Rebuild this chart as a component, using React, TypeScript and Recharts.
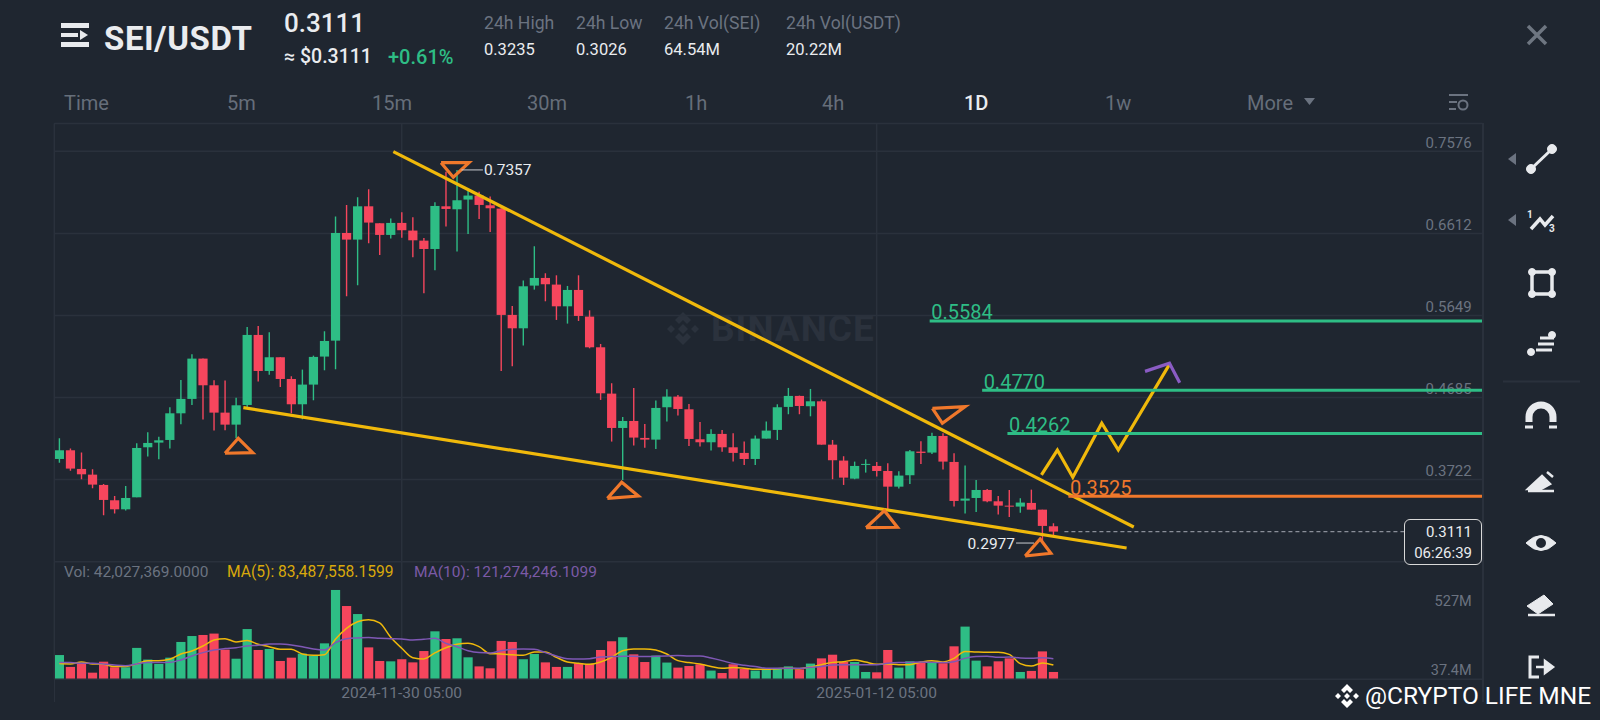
import { Bar, CartesianGrid, ComposedChart, Line, ReferenceLine, XAxis, YAxis } from 'recharts';

// candles, oldest first
const opens = [
  0.3964, 0.4066, 0.3847, 0.3780, 0.3659, 0.3479, 0.3373, 0.3514, 0.4101, 0.4156,
  0.4187, 0.4500, 0.4669, 0.5142, 0.4829, 0.4508, 0.4367, 0.4598, 0.5420, 0.4997,
  0.5158, 0.4903, 0.4606, 0.4837, 0.5166, 0.5353, 0.6617, 0.6539, 0.6930, 0.6731,
  0.6594, 0.6735, 0.6645, 0.6527, 0.6429, 0.6930, 0.6895, 0.7009, 0.7056, 0.6942,
  0.6903, 0.5655, 0.5498, 0.5999, 0.6089, 0.6011, 0.5756, 0.5948, 0.5635, 0.5275,
  0.4731, 0.4328, 0.4410, 0.4211, 0.4191, 0.4571, 0.4696, 0.4547, 0.4195, 0.4160,
  0.4258, 0.4101, 0.4035, 0.3964, 0.4203, 0.4305, 0.4575, 0.4704, 0.4583, 0.4641,
  0.4132, 0.3945, 0.3733, 0.3898, 0.3882, 0.3823, 0.3639, 0.3773, 0.4050, 0.4039,
  0.4234, 0.3929, 0.3475, 0.3506, 0.3600, 0.3467, 0.3416, 0.3405, 0.3448, 0.3369,
  0.3174,
];
const highs = [
  0.4207, 0.4086, 0.4039, 0.3843, 0.3671, 0.3530, 0.3647, 0.4148, 0.4277, 0.4226,
  0.4571, 0.4892, 0.5193, 0.5142, 0.4888, 0.4884, 0.4684, 0.5514, 0.5526, 0.5451,
  0.5158, 0.4935, 0.5013, 0.5177, 0.5463, 0.6809, 0.6946, 0.7036, 0.7130, 0.6731,
  0.6786, 0.6860, 0.6801, 0.6559, 0.6977, 0.7337, 0.7357, 0.7122, 0.7102, 0.7044,
  0.6907, 0.5760, 0.6058, 0.6461, 0.6144, 0.6120, 0.5995, 0.6120, 0.5709, 0.5314,
  0.4853, 0.4457, 0.4798, 0.4375, 0.4649, 0.4782, 0.4716, 0.4610, 0.4399, 0.4313,
  0.4305, 0.4266, 0.4168, 0.4238, 0.4403, 0.4606, 0.4798, 0.4708, 0.4786, 0.4661,
  0.4187, 0.3996, 0.3933, 0.3960, 0.3929, 0.3913, 0.3819, 0.4070, 0.4172, 0.4273,
  0.4266, 0.4031, 0.3886, 0.3718, 0.3612, 0.3530, 0.3600, 0.3503, 0.3604, 0.3369,
  0.3209,
];
const lows = [
  0.3921, 0.3827, 0.3726, 0.3620, 0.3303, 0.3323, 0.3358, 0.3514, 0.3992, 0.3960,
  0.4086, 0.4371, 0.4598, 0.4426, 0.4297, 0.4301, 0.4207, 0.4559, 0.4872, 0.4954,
  0.4809, 0.4500, 0.4430, 0.4653, 0.5005, 0.5017, 0.5874, 0.6003, 0.6496, 0.6359,
  0.6551, 0.6562, 0.6332, 0.5909, 0.6179, 0.6692, 0.6398, 0.6606, 0.6782, 0.6629,
  0.4997, 0.5052, 0.5295, 0.5952, 0.5815, 0.5596, 0.5553, 0.5584, 0.5263, 0.4657,
  0.4168, 0.3718, 0.4121, 0.4097, 0.4082, 0.4403, 0.4473, 0.4117, 0.4109, 0.4062,
  0.4050, 0.3933, 0.3894, 0.3894, 0.4203, 0.4187, 0.4489, 0.4489, 0.4465, 0.4132,
  0.3726, 0.3659, 0.3726, 0.3804, 0.3757, 0.3366, 0.3616, 0.3671, 0.3906, 0.4023,
  0.3839, 0.3405, 0.3323, 0.3342, 0.3455, 0.3311, 0.3283, 0.3334, 0.3369, 0.2977,
  0.3072,
];
const closes = [
  0.4066, 0.3851, 0.3784, 0.3663, 0.3483, 0.3373, 0.3506, 0.4093, 0.4152, 0.4183,
  0.4500, 0.4669, 0.5142, 0.4829, 0.4508, 0.4367, 0.4594, 0.5420, 0.4997, 0.5158,
  0.4903, 0.4606, 0.4837, 0.5162, 0.5349, 0.6617, 0.6539, 0.6930, 0.6739, 0.6594,
  0.6735, 0.6649, 0.6531, 0.6429, 0.6934, 0.6899, 0.7001, 0.7056, 0.6946, 0.6907,
  0.5655, 0.5498, 0.5991, 0.6089, 0.6015, 0.5756, 0.5948, 0.5643, 0.5275, 0.4735,
  0.4328, 0.4410, 0.4215, 0.4191, 0.4563, 0.4696, 0.4551, 0.4199, 0.4160, 0.4258,
  0.4101, 0.4035, 0.3964, 0.4203, 0.4297, 0.4571, 0.4704, 0.4586, 0.4641, 0.4132,
  0.3949, 0.3745, 0.3882, 0.3906, 0.3823, 0.3639, 0.3769, 0.4054, 0.4035, 0.4234,
  0.3933, 0.3471, 0.3499, 0.3600, 0.3467, 0.3416, 0.3409, 0.3452, 0.3369, 0.3178,
  0.3111,
];

// volume in millions
const volumes = [
  139, 71, 92, 38, 101, 69, 69, 180, 113, 88,
  124, 214, 248, 254, 262, 170, 118, 288, 168, 174,
  105, 124, 147, 134, 206, 512, 420, 374, 183, 105,
  103, 115, 97, 162, 275, 231, 235, 126, 74, 63,
  220, 214, 115, 145, 97, 71, 71, 92, 88, 168,
  218, 241, 143, 99, 136, 96, 67, 76, 86, 50,
  36, 86, 59, 50, 61, 65, 74, 57, 90, 120,
  141, 101, 99, 42, 40, 168, 67, 103, 96, 96,
  92, 189, 302, 107, 74, 103, 120, 42, 48, 160,
  42,
];
const ma5 = [
  90, 88, 99, 88, 86, 73, 73, 88, 107, 107,
  115, 145, 162, 191, 225, 233, 214, 222, 201, 187,
  172, 172, 145, 138, 141, 229, 292, 330, 342, 323,
  241, 178, 124, 117, 151, 181, 201, 206, 187, 147,
  145, 141, 138, 157, 157, 126, 99, 92, 86, 99,
  126, 164, 174, 174, 168, 145, 107, 96, 88, 73,
  63, 67, 63, 57, 57, 61, 63, 61, 71, 84,
  97, 101, 111, 99, 86, 88, 84, 84, 99, 107,
  99, 120, 160, 157, 155, 155, 143, 90, 76, 94,
  82,
];
const ma10 = [
  96, 96, 92, 92, 88, 82, 78, 88, 97, 96,
  97, 111, 134, 153, 168, 176, 181, 191, 195, 202,
  202, 197, 187, 174, 168, 210, 233, 237, 239, 235,
  233, 231, 225, 229, 235, 206, 187, 164, 153, 151,
  164, 172, 174, 172, 153, 134, 118, 117, 118, 128,
  130, 132, 132, 130, 132, 134, 136, 134, 134, 122,
  107, 90, 80, 73, 63, 63, 63, 63, 69, 74,
  82, 84, 84, 84, 84, 92, 96, 97, 99, 97,
  96, 101, 120, 130, 132, 126, 128, 122, 120, 124,
  118,
];

const priceTicks = [0.7576, 0.6612, 0.5649, 0.4685, 0.3722, 0.2758];
const volumeTicks = [527, 37.4];
const dateTicks = [31, 74];
const dateLabels = ['2024-11-30 05:00', '2025-01-12 05:00'];

// drawn annotations, as [candle index, price]
const upperTrend = [[30.24, 0.7571], [97.28, 0.3165]];
const lowerTrend = [[16.66, 0.4566], [96.63, 0.2919]];
const zigzag = [[88.92, 0.3776], [90.36, 0.4069], [91.76, 0.3749], [94.38, 0.4383], [95.88, 0.4069], [100.51, 0.5075]];
const arrowHead = [[98.3, 0.4992], [100.51, 0.5087], [101.44, 0.4859]];
const triangles = [
  [[15.0, 0.4031], [16.2, 0.4207], [17.51, 0.4038], [15.0, 0.4031]],
  [[34.56, 0.7442], [37.09, 0.7442], [35.67, 0.7271], [34.56, 0.7442]],
  [[49.62, 0.3502], [50.92, 0.369], [52.42, 0.3529], [49.62, 0.3502]],
  [[73.04, 0.3157], [74.7, 0.3357], [75.88, 0.3162], [73.04, 0.3157]],
  [[79.05, 0.4559], [82.01, 0.4578], [79.95, 0.4383], [79.05, 0.4559]],
  [[87.44, 0.2825], [88.8, 0.3024], [89.77, 0.2857], [87.44, 0.2825]],
];
const levels = [
  { price: 0.5584, from: 78.8, color: '#2ebd85', text: '0.5584' },
  { price: 0.477, from: 83.55, color: '#2ebd85', text: '0.4770' },
  { price: 0.4262, from: 85.84, color: '#2ebd85', text: '0.4262' },
  { price: 0.3525, from: 91.36, color: '#f0782b', text: '0.3525' },
];

const toPoints = (pts: number[][]) => pts.map(([index, price]) => ({ index, price }));

const candles = opens.map((open, i) => ({
  index: i,
  open,
  close: closes[i],
  range: [lows[i], highs[i]],
}));
const volumeData = volumes.map((volume, i) => ({
  index: i,
  volume,
  up: closes[i] >= opens[i],
  ma5: ma5[i],
  ma10: ma10[i],
}));

const GREEN = '#2ebd85';
const RED = '#f6465d';
const YELLOW = '#f0b90b';
const ORANGE = '#f0782b';
const PURPLE = '#8a5cc4';
const GRID = '#2a313c';
const BG = '#1f2630';
const FONT = 'Roboto, sans-serif';
const X_DOMAIN = [-0.455, 128.87];
const PRICE_DOMAIN = [0.2758, 0.7902];
const PRICE_MARGIN = { left: 54.3, right: 1600 - 1482.7, top: 123.5, bottom: 158.3 };
const LAST_X = 128.87;

const CandleShape = (props: any) => {
  const { x, y, width, height, payload } = props;
  const [low, high] = payload.range;
  // the bar can come with a negative height, so work from its top edge
  const wickTop = Math.min(y, y + height);
  const wickHeight = Math.abs(height);
  const perUnit = wickHeight / (high - low);
  const color = payload.close >= payload.open ? GREEN : RED;
  const top = wickTop + (high - Math.max(payload.open, payload.close)) * perUnit;
  const bodyHeight = Math.max(Math.abs(payload.open - payload.close) * perUnit, 1);
  const mid = x + width / 2;
  return (
    <g>
      <line x1={mid} x2={mid} y1={wickTop} y2={wickTop + wickHeight} stroke={color} strokeWidth={1.4} />
      <rect x={x} y={top} width={width} height={bodyHeight} fill={color} />
    </g>
  );
};

const VolumeShape = (props: any) => {
  const { x, y, width, height, payload } = props;
  return <rect x={x} y={y} width={width} height={height} fill={payload.up ? GREEN : RED} />;
};

const VolumeTick = (props: any) => {
  const { x, y, payload } = props;
  return (
    <text x={x} y={y} dy={payload.value > 100 ? 19 : 2} textAnchor="end" fill="#6b7380" fontSize={14.5} fontFamily={FONT}>
      {`${payload.value}M`}
    </text>
  );
};

const label = (x: number, y: number, text: string, color: string, size: number, extra: any = {}) => (
  <div
    key={text + x}
    style={{
      position: 'absolute', left: x, top: y, transform: 'translateY(-50%)', color, fontSize: size,
      fontFamily: FONT, whiteSpace: 'nowrap', lineHeight: 1, ...extra,
    }}
  >
    {text}
  </div>
);

const tabs: [number, string][] = [[64, 'Time'], [227, '5m'], [372, '15m'], [527, '30m'], [685, '1h'], [822, '4h'], [964, '1D'], [1105, '1w'], [1247, 'More']];
const stats: [number, string, string][] = [
  [484, '24h High', '0.3235'],
  [576, '24h Low', '0.3026'],
  [664, '24h Vol(SEI)', '64.54M'],
  [786, '24h Vol(USDT)', '20.22M'],
];
const ICON = '#e8eaed';

const Watermark = () => (
  <>
    <svg width={1600} height={720} style={{ position: 'absolute', left: 0, top: 0 }}>
      <g fill="#2b323d">
        <path d="M683 312 L691 320 L687 324 L683 320 L679 324 L675 320 Z" />
        <path d="M683 345 L691 337 L687 333 L683 337 L679 333 L675 337 Z" />
        <path d="M683 324 L688 329 L683 334 L678 329 Z" />
        <path d="M667 329 L671 325 L675 329 L671 333 Z M691 329 L695 325 L699 329 L695 333 Z" />
      </g>
    </svg>
    <div style={{ position: 'absolute', left: 711, top: 328, transform: 'translateY(-50%)', color: '#2b323d', fontSize: 37, fontWeight: 700, fontFamily: FONT, letterSpacing: 1 }}>
      BINANCE
    </div>
  </>
);

const Toolbar = () => (
  <svg width={1600} height={720} style={{ position: 'absolute', left: 0, top: 0 }}>
    {/* header logo */}
    <g fill={ICON}>
      <rect x={61} y={23} width={28} height={5} />
      <rect x={61} y={42} width={28} height={5} />
      <rect x={61} y={33} width={17} height={4} />
      <path d="M80 30 L88 35 L80 40 Z" />
    </g>
    {/* close */}
    <path d="M1528 26 L1546 44 M1546 26 L1528 44" stroke="#6e7681" strokeWidth={3.5} />
    {/* More caret and settings */}
    <path d="M1304 98 L1315 98 L1309.5 105 Z" fill="#6b7380" />
    <g fill="none" stroke="#6b7380" strokeWidth={2}>
      <path d="M1449 95 H1468 M1449 102 H1457 M1449 109 H1456" />
      <circle cx={1463} cy={105} r={4.5} />
    </g>
    {/* side tools */}
    <path d="M1516 153 L1508 159 L1516 165 Z M1516 214 L1508 220 L1516 226 Z" fill="#6b7380" />
    <path d="M1503 381.5 H1580" stroke={GRID} strokeWidth={2} />
    <g fill={ICON} stroke={ICON}>
      <path d="M1531 169 L1552 149" strokeWidth={3} />
      <circle cx={1531} cy={169} r={4.5} />
      <circle cx={1552} cy={149} r={4.5} />
      <path d="M1531 229 L1540 219 L1545 225 L1553 216" strokeWidth={3.5} fill="none" />
      <text x={1527} y={218} fontSize={10} fontWeight={700} stroke="none" fontFamily={FONT}>1</text>
      <text x={1549} y={232} fontSize={10} fontWeight={700} stroke="none" fontFamily={FONT}>3</text>
      <path d="M1532 272 H1552 V294 H1532 Z" fill="none" strokeWidth={3.5} />
      <circle cx={1532} cy={272} r={3.5} /><circle cx={1552} cy={272} r={3.5} />
      <circle cx={1532} cy={294} r={3.5} /><circle cx={1552} cy={294} r={3.5} />
      <path d="M1536 350 H1552 M1538 344 H1554 M1540 338 H1554" strokeWidth={3} />
      <circle cx={1531} cy={352} r={3.5} /><circle cx={1552} cy={335} r={3.5} />
      <path d="M1529 422 V417 A12 12 0 0 1 1553 417 V422" fill="none" strokeWidth={7} />
      <path d="M1525 427 H1533 M1549 427 H1557" strokeWidth={3} />
      <path d="M1528 489 L1542 476 L1550 484 L1541 489 Z M1547 472 L1553 477" strokeWidth={2.5} />
      <path d="M1528 491 H1554" strokeWidth={2.5} />
      <path d="M1526 543 Q1541 528 1556 543 Q1541 558 1526 543 Z" strokeWidth={1} />
      <circle cx={1541} cy={543} r={6} fill={BG} strokeWidth={2} />
      <path d="M1527 606 L1544 595 L1553 604 L1538 614 Z" strokeWidth={1} />
      <path d="M1528 615 H1555" strokeWidth={2.5} />
      <path d="M1539 657 H1530 V677 H1539" fill="none" strokeWidth={3} />
      <path d="M1536 667 H1547 M1545 661 L1553 667 L1545 673 Z" strokeWidth={2.5} />
    </g>
    <g fill="#ffffff" transform="translate(1347 696) scale(0.75)">
      <path d="M0 -16 L8 -8 L4 -4 L0 -8 L-4 -4 L-8 -8 Z" />
      <path d="M0 16 L8 8 L4 4 L0 8 L-4 4 L-8 8 Z" />
      <path d="M0 -4 L4 0 L0 4 L-4 0 Z M-16 0 L-12 -4 L-8 0 L-12 4 Z M16 0 L12 -4 L8 0 L12 4 Z" />
    </g>
  </svg>
);

export default function App() {
  return (
    <div style={{ position: 'absolute', left: 0, top: 0, width: 1600, height: 720, background: BG, overflow: 'hidden' }}>
      <Watermark />

      {/* price pane */}
      <div style={{ position: 'absolute', left: 0, top: 0 }}>
        <ComposedChart width={1600} height={720} data={candles} margin={PRICE_MARGIN}>
          <CartesianGrid stroke={GRID} strokeWidth={1.5} />
          <XAxis type="number" dataKey="index" domain={X_DOMAIN} allowDataOverflow ticks={dateTicks} hide />
          <YAxis
            type="number"
            orientation="right"
            mirror
            width={1}
            domain={PRICE_DOMAIN}
            allowDataOverflow
            ticks={priceTicks}
            interval={0}
            tickLine={false}
            axisLine={false}
            tickMargin={5}
            tickFormatter={(v: number) => (v === 0.2758 ? '' : v.toFixed(4))}
            tick={{ fill: '#6b7380', fontSize: 15, fontFamily: FONT, dy: -9 }}
          />
          <Bar dataKey="range" barSize={9.2} shape={CandleShape} isAnimationActive={false} />
        </ComposedChart>
      </div>

      {/* drawings sit in their own chart, their x values would squeeze the candle bars otherwise */}
      <div style={{ position: 'absolute', left: 0, top: 0 }}>
        <ComposedChart width={1600} height={720} margin={PRICE_MARGIN}>
          <XAxis type="number" dataKey="index" domain={X_DOMAIN} allowDataOverflow hide />
          <YAxis type="number" domain={PRICE_DOMAIN} allowDataOverflow hide />
          <Line data={toPoints(upperTrend)} dataKey="price" stroke={YELLOW} strokeWidth={3.2} dot={false} isAnimationActive={false} />
          <Line data={toPoints(lowerTrend)} dataKey="price" stroke={YELLOW} strokeWidth={3.2} dot={false} isAnimationActive={false} />
          <Line data={toPoints(zigzag)} dataKey="price" stroke={YELLOW} strokeWidth={3.2} dot={false} isAnimationActive={false} />
          <Line data={toPoints(arrowHead)} dataKey="price" stroke={PURPLE} strokeWidth={3.2} dot={false} isAnimationActive={false} />
          {triangles.map((t, i) => (
            <Line key={i} data={toPoints(t)} dataKey="price" stroke={ORANGE} strokeWidth={3.2} dot={false} isAnimationActive={false} />
          ))}
          {levels.map((l) => (
            <ReferenceLine
              key={l.text}
              segment={[{ x: l.from, y: l.price }, { x: LAST_X, y: l.price }]}
              stroke={l.color}
              strokeWidth={3}
              label={{ value: l.text, position: 'insideBottomLeft', fill: l.color, fontSize: 20, fontFamily: FONT, offset: 1.5 }}
            />
          ))}
          <ReferenceLine
            segment={[{ x: 36.4, y: 0.7357 }, { x: 38.35, y: 0.7357 }]}
            stroke="#c9ccd1"
            label={{ value: '0.7357', position: 'right', fill: '#eaecef', fontSize: 15.5, fontFamily: FONT, offset: 1 }}
          />
          <ReferenceLine
            segment={[{ x: 86.62, y: 0.2977 }, { x: 88.25, y: 0.2977 }]}
            stroke="#c9ccd1"
            label={{ value: '0.2977', position: 'left', fill: '#eaecef', fontSize: 15.5, fontFamily: FONT, offset: 1 }}
          />
          <ReferenceLine
            segment={[{ x: 91, y: 0.3111 }, { x: 121.75, y: 0.3111 }]}
            stroke="#8a8f99"
            strokeDasharray="4 3"
            strokeWidth={1.2}
          />
        </ComposedChart>
      </div>

      {/* volume pane */}
      <div style={{ position: 'absolute', left: 0, top: 0 }}>
        <ComposedChart
          width={1600}
          height={720}
          data={volumeData}
          margin={{ left: 54.3, right: 1600 - 1482.7, top: 561.7, bottom: 0 }}
        >
          <CartesianGrid stroke={GRID} strokeWidth={1.5} horizontal={false} />
          <XAxis
            type="number"
            dataKey="index"
            domain={X_DOMAIN}
            allowDataOverflow
            ticks={dateTicks}
            height={40.7}
            tickLine={false}
            axisLine={{ stroke: GRID, strokeWidth: 1.5 }}
            tickFormatter={(v: number) => dateLabels[dateTicks.indexOf(v)]}
            tick={{ fill: '#6b7380', fontSize: 15.5, fontFamily: FONT }}
          />
          <YAxis
            type="number"
            orientation="right"
            mirror
            width={1}
            domain={[0, 674]}
            allowDataOverflow
            ticks={volumeTicks}
            interval={0}
            tickLine={false}
            axisLine={false}
            tickMargin={5}
            tick={VolumeTick}
          />
          <Bar dataKey="volume" barSize={9.2} shape={VolumeShape} isAnimationActive={false} />
          <Line dataKey="ma5" type="monotone" stroke={YELLOW} strokeWidth={1.5} dot={false} isAnimationActive={false} />
          <Line dataKey="ma10" type="monotone" stroke="#7f58b5" strokeWidth={1.5} dot={false} isAnimationActive={false} />
        </ComposedChart>
      </div>

      {/* frame */}
      <div style={{ position: 'absolute', left: 54, top: 123, width: 1429, height: 1, background: GRID }} />
      <div style={{ position: 'absolute', left: 54, top: 123, width: 1, height: 579, background: GRID }} />
      <div style={{ position: 'absolute', left: 1482, top: 123, width: 1.5, height: 579, background: GRID }} />

      {/* header */}
      {label(104, 38, 'SEI/USDT', '#eaecef', 33, { fontWeight: 700, letterSpacing: 0.6 })}
      {label(284, 23, '0.3111', '#eaecef', 26, { fontWeight: 500 })}
      {label(284, 57, '≈ $0.3111', '#eaecef', 19.5, { fontWeight: 500 })}
      {label(388, 57, '+0.61%', GREEN, 20, { fontWeight: 500 })}
      {stats.map(([x, name, value]) => (
        <div key={name}>
          {label(x, 24, name, '#6b7380', 17.6)}
          {label(x, 50, value, '#eaecef', 16.5)}
        </div>
      ))}
      {tabs.map(([x, t]) => label(x, 103, t, t === '1D' ? '#eaecef' : '#666e7a', 20, t === '1D' ? { fontWeight: 500 } : {}))}

      {/* legend */}
      {label(64, 573, 'Vol: 42,027,369.0000', '#6b7380', 15.5)}
      {label(227, 573, 'MA(5): 83,487,558.1599', '#d9a90b', 15.6)}
      {label(414, 573, 'MA(10): 121,274,246.1099', '#7b5aa6', 15.5)}

      {/* last price tag */}
      <div style={{ position: 'absolute', left: 1404, top: 519, width: 78, height: 46, boxSizing: 'border-box', border: '1px solid #d8d8d8', borderRadius: 6, background: BG }} />
      {label(1472, 532, '0.3111', '#eaecef', 15, { transform: 'translate(-100%, -50%)' })}
      {label(1472, 553, '06:26:39', '#eaecef', 15, { transform: 'translate(-100%, -50%)' })}

      <Toolbar />
      {label(1365, 696, '@CRYPTO LIFE MNE', '#ffffff', 24.5)}
    </div>
  );
}
